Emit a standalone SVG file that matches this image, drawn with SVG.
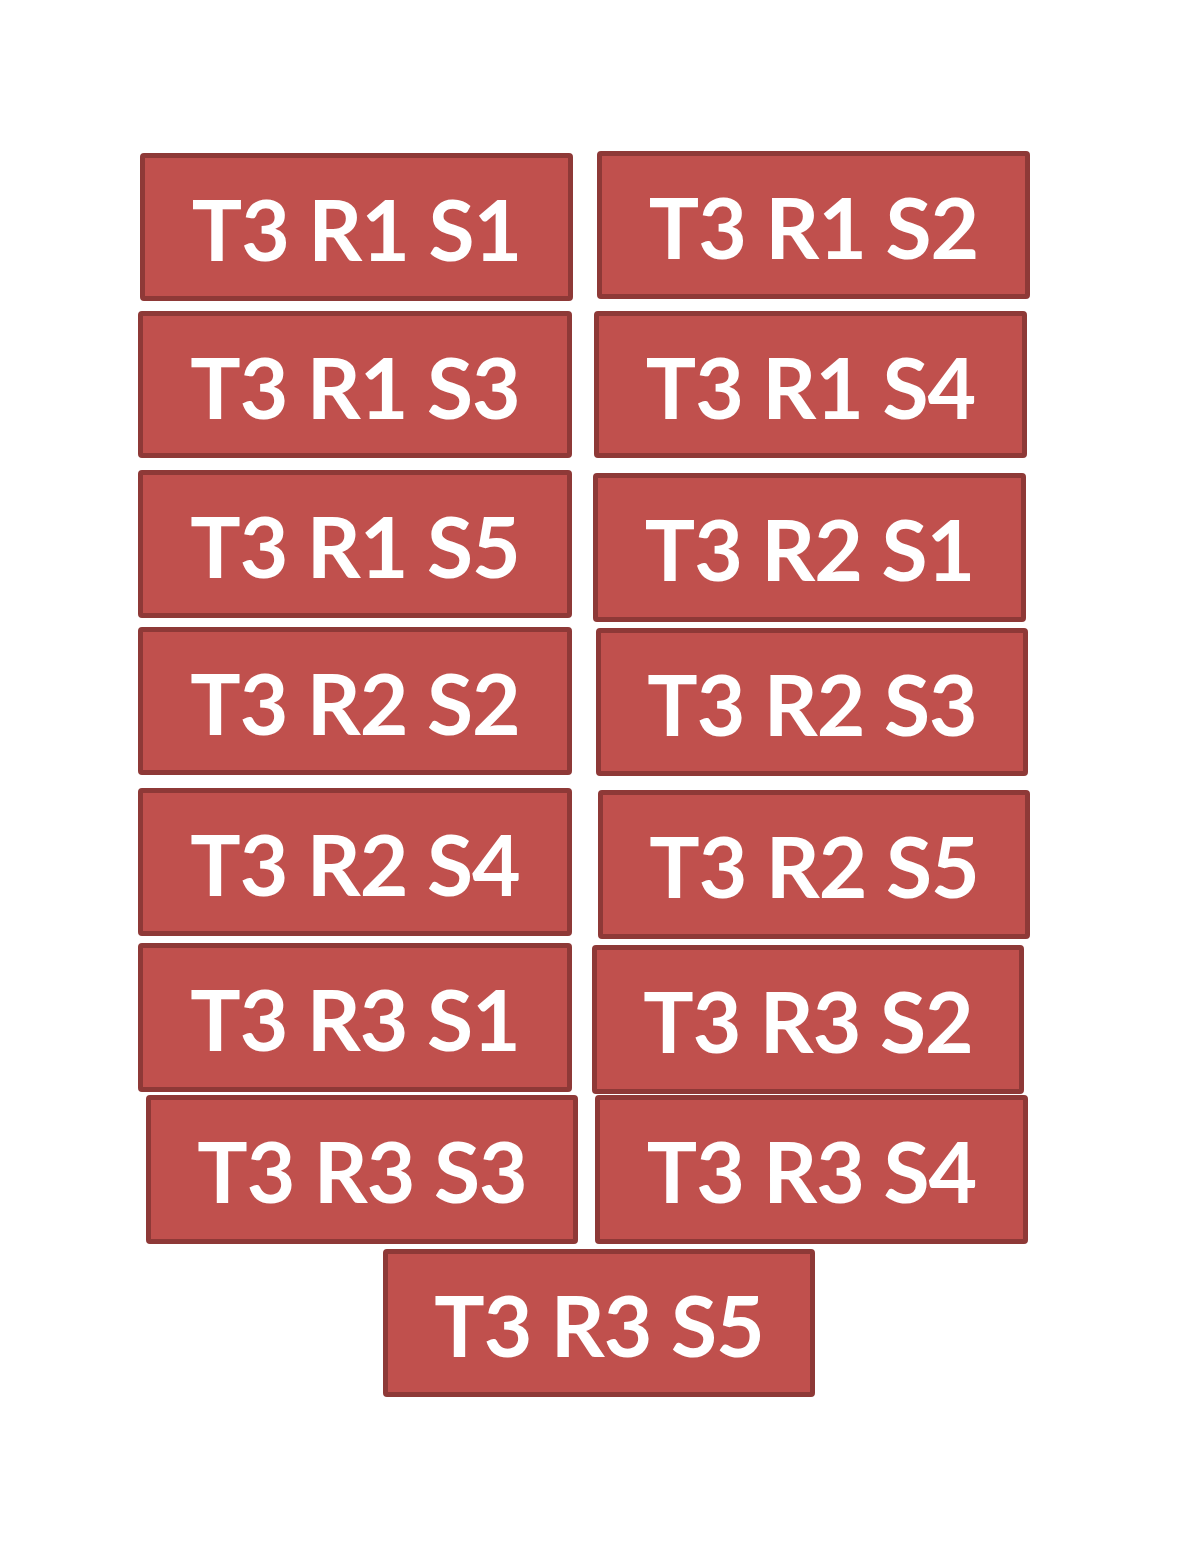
<svg xmlns="http://www.w3.org/2000/svg" width="1200" height="1553" viewBox="0 0 1200 1553">
<style>
.box{fill:#C0504D;stroke:#8E3937;stroke-width:5;stroke-linejoin:round}
.lbl{fill:#FFFFFF;font-family:Lato,"Liberation Sans",sans-serif;font-weight:bold;font-size:84px;letter-spacing:-1px;text-anchor:middle}
</style>
<rect width="1200" height="1553" fill="#FFFFFF"/>
<g id="connectors"></g>
<g id="n1"><rect class="box" x="142.5" y="155.5" width="428" height="143" rx="1.5"/><text class="lbl" x="356.5" y="261">T3 R1 S1</text></g>
<g id="n2"><rect class="box" x="599.5" y="153.5" width="428" height="143" rx="1.5"/><text class="lbl" x="813.5" y="259">T3 R1 S2</text></g>
<g id="n3"><rect class="box" x="140.5" y="313.5" width="429" height="142" rx="1.5"/><text class="lbl" x="355" y="419">T3 R1 S3</text></g>
<g id="n4"><rect class="box" x="596.5" y="313.5" width="428" height="142" rx="1.5"/><text class="lbl" x="810.5" y="419">T3 R1 S4</text></g>
<g id="n5"><rect class="box" x="140.5" y="472.5" width="429" height="143" rx="1.5"/><text class="lbl" x="355" y="578">T3 R1 S5</text></g>
<g id="n6"><rect class="box" x="595.5" y="475.5" width="428" height="144" rx="1.5"/><text class="lbl" x="809.5" y="581">T3 R2 S1</text></g>
<g id="n7"><rect class="box" x="140.5" y="629.5" width="429" height="143" rx="1.5"/><text class="lbl" x="355" y="735">T3 R2 S2</text></g>
<g id="n8"><rect class="box" x="598.5" y="630.5" width="427" height="143" rx="1.5"/><text class="lbl" x="812" y="736">T3 R2 S3</text></g>
<g id="n9"><rect class="box" x="140.5" y="790.5" width="429" height="143" rx="1.5"/><text class="lbl" x="355" y="896">T3 R2 S4</text></g>
<g id="n10"><rect class="box" x="600.5" y="792.5" width="427" height="144" rx="1.5"/><text class="lbl" x="814" y="898">T3 R2 S5</text></g>
<g id="n11"><rect class="box" x="140.5" y="945.5" width="429" height="144" rx="1.5"/><text class="lbl" x="355" y="1051">T3 R3 S1</text></g>
<g id="n12"><rect class="box" x="594.5" y="947.5" width="427" height="144" rx="1.5"/><text class="lbl" x="808" y="1053">T3 R3 S2</text></g>
<g id="n13"><rect class="box" x="148.5" y="1097.5" width="427" height="144" rx="1.5"/><text class="lbl" x="362" y="1203">T3 R3 S3</text></g>
<g id="n14"><rect class="box" x="597.5" y="1097.5" width="428" height="144" rx="1.5"/><text class="lbl" x="811.5" y="1203">T3 R3 S4</text></g>
<g id="n15"><rect class="box" x="385.5" y="1251.5" width="427" height="143" rx="1.5"/><text class="lbl" x="599" y="1357">T3 R3 S5</text></g>
</svg>
